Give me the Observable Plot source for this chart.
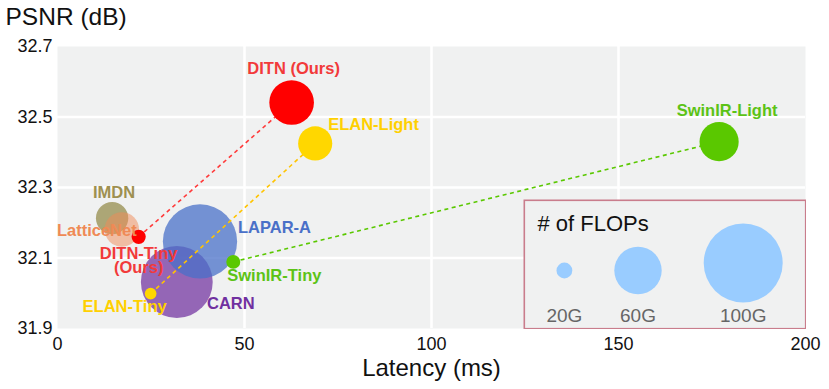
<!DOCTYPE html>
<html>
<head>
<meta charset="utf-8">
<script src="https://cdn.jsdelivr.net/npm/d3@7"></script>
<script src="https://cdn.jsdelivr.net/npm/@observablehq/plot@0.6"></script>
<style>
  html, body { margin: 0; padding: 0; background: #fff; }
  #wrap { position: relative; width: 829px; height: 389px; font-family: "Liberation Sans", Arial, Helvetica, sans-serif; }
  #legend { position: absolute; left: 523px; top: 199px; }
</style>
</head>
<body>
<div id="wrap"><div id="legend"></div></div>
<script>
// ---- data ----
const models  = ["IMDN", "LatticeNet", "CARN", "LAPAR-A", "DITN (Ours)", "ELAN-Light", "SwinIR-Light", "DITN-Tiny\n(Ours)", "ELAN-Tiny", "SwinIR-Tiny"];
const latency = [14.6, 17.2, 31.9, 38.1, 62.6, 68.9, 176.9, 21.7, 24.9, 47.0];   // ms
const psnr    = [32.213, 32.181, 32.032, 32.147, 32.541, 32.425, 32.430, 32.160, 31.999, 32.089]; // dB
const flops   = [40.9, 43.6, 90.9, 94.0, 56.5, 43.2, 49.6, 18.0, 14.8, 17.7];   // G
const pairFrom = ["DITN-Tiny\n(Ours)", "ELAN-Tiny", "SwinIR-Tiny"];
const pairTo   = ["DITN (Ours)", "ELAN-Light", "SwinIR-Light"];
const xTicks = [0, 50, 100, 150, 200];
const yTicks = [31.9, 32.1, 32.3, 32.5, 32.7];
const legendFlops  = [20, 60, 100];
const legendLabels = ["20G", "60G", "100G"];

// ---- styles ----
const look = {
  "IMDN":            {fill: "#968c4c", op: 0.75, text: "#9e9050", dx: 2,   dy: -24, anchor: "middle"},
  "LatticeNet":      {fill: "#ef8a55", op: 0.5,  text: "#ef8a55", dx: -25, dy: 2,   anchor: "middle"},
  "CARN":            {fill: "#7030a0", op: 0.72, text: "#7030a0", dx: 54,  dy: 23,  anchor: "middle"},
  "LAPAR-A":         {fill: "#4a70c8", op: 0.75, text: "#4a70c8", dx: 38,  dy: -13, anchor: "start"},
  "DITN (Ours)":     {fill: "#ff0000", op: 1,    text: "#f23a3a", dx: 2,   dy: -33, anchor: "middle"},
  "ELAN-Light":      {fill: "#ffd700", op: 1,    text: "#ffd000", dx: 13,  dy: -18, anchor: "start"},
  "SwinIR-Light":    {fill: "#5ac800", op: 1,    text: "#5cc316", dx: 8,   dy: -30, anchor: "middle"},
  "DITN-Tiny\n(Ours)": {fill: "#ff0000", op: 1,  text: "#f23a3a", dx: 0,   dy: 25,  anchor: "middle"},
  "ELAN-Tiny":       {fill: "#ffd700", op: 1,    text: "#ffd000", dx: -26, dy: 14,  anchor: "middle"},
  "SwinIR-Tiny":     {fill: "#5ac800", op: 1,    text: "#5cc316", dx: -6,  dy: 15,  anchor: "start"}
};
const lineColors = {"DITN (Ours)": "#ff3a3a", "ELAN-Light": "#ffc400", "SwinIR-Light": "#5ac800"};

const FONT = "'Liberation Sans', Arial, Helvetica, sans-serif";
const rScale = {type: "linear", domain: [0, 100], range: [0, 39.5]};
const idx = models.map((_, i) => i);
const translucent = [0, 1, 2, 3];
const opaque = [4, 5, 6, 7, 8, 9];
const at = name => models.indexOf(name);
const links = pairFrom.map((f, k) => ({a: at(f), b: at(pairTo[k]), c: lineColors[pairTo[k]]}));

const dotMark = i => Plot.dot([i], {
  x: j => latency[j], y: j => psnr[j], r: j => flops[j],
  fill: look[models[i]].fill, fillOpacity: look[models[i]].op, stroke: "none"
});
const labelMark = i => Plot.text([i], {
  x: j => latency[j], y: j => psnr[j], text: j => models[j],
  fill: look[models[i]].text, fontWeight: "bold", fontSize: 16.5,
  textAnchor: look[models[i]].anchor, dx: look[models[i]].dx, dy: look[models[i]].dy,
  lineHeight: 0.8
});

const chart = Plot.plot({
  width: 829, height: 389,
  marginLeft: 57, marginRight: 24, marginTop: 46, marginBottom: 61,
  style: {fontFamily: FONT, background: "transparent", overflow: "visible"},
  x: {domain: [0, 200]},
  y: {domain: [31.9, 32.7]},
  r: rScale,
  marks: [
    Plot.frame({fill: "#f0f1f1", stroke: "none"}),
    Plot.gridX(xTicks.slice(1, -1), {stroke: "#ffffff", strokeOpacity: 1, strokeWidth: 2.6}),
    Plot.gridY(yTicks.slice(1, -1), {stroke: "#ffffff", strokeOpacity: 1, strokeWidth: 2.6}),
    Plot.axisX(xTicks, {tickSize: 0, tickPadding: 9, fontSize: 18, fill: "#111", label: null}),
    Plot.axisY(yTicks, {tickSize: 0, tickPadding: 5, fontSize: 18, fill: "#111", tickFormat: ".1f", label: null}),
    ...translucent.map(dotMark),
    Plot.link(links, {
      x1: d => latency[d.a], y1: d => psnr[d.a], x2: d => latency[d.b], y2: d => psnr[d.b],
      stroke: d => d.c, strokeWidth: 1.6, strokeDasharray: "4,3.5"
    }),
    ...opaque.map(dotMark),
    ...idx.map(labelMark),
    Plot.text(["PSNR (dB)"], {frameAnchor: "top-left", lineAnchor: "middle", textAnchor: "start", dx: -52, dy: -29, fontSize: 24.5, fill: "#111"}),
    Plot.text(["Latency (ms)"], {frameAnchor: "bottom", lineAnchor: "middle", dy: 40, fontSize: 24, fill: "#111"})
  ]
});
document.getElementById("wrap").prepend(chart);

// ---- size legend ----
const rs = Plot.scale({r: rScale});
const radii = legendFlops.map(f => rs.apply(f));
const cx = [];
radii.forEach((r, k) => { cx.push(k === 0 ? 33 + r : cx[k - 1] + radii[k - 1] + 42 + r); });
const cy = radii.map(r => Math.min(71, 103 - r));
const legend = Plot.plot({
  width: 283, height: 130, margin: 0,
  style: {fontFamily: FONT, background: "transparent"},
  x: {type: "identity", axis: null}, y: {type: "identity", axis: null}, r: rScale,
  marks: [
    Plot.frame({fill: "#f0f1f1", stroke: "#c97d8c", strokeWidth: 1.6, inset: 0.8}),
    Plot.dot(legendFlops, {x: (d, k) => cx[k], y: (d, k) => cy[k], r: d => d, fill: "#99ccff", stroke: "none", sort: null}),
    Plot.text(legendLabels, {x: (d, k) => cx[k], y: () => 116, text: d => d, fontSize: 19, fill: "#666"}),
    Plot.text(["# of FLOPs"], {x: () => 14, y: () => 24, text: d => d, textAnchor: "start", fontSize: 22, fill: "#111"})
  ]
});
document.getElementById("legend").append(legend);
</script>
</body>
</html>
